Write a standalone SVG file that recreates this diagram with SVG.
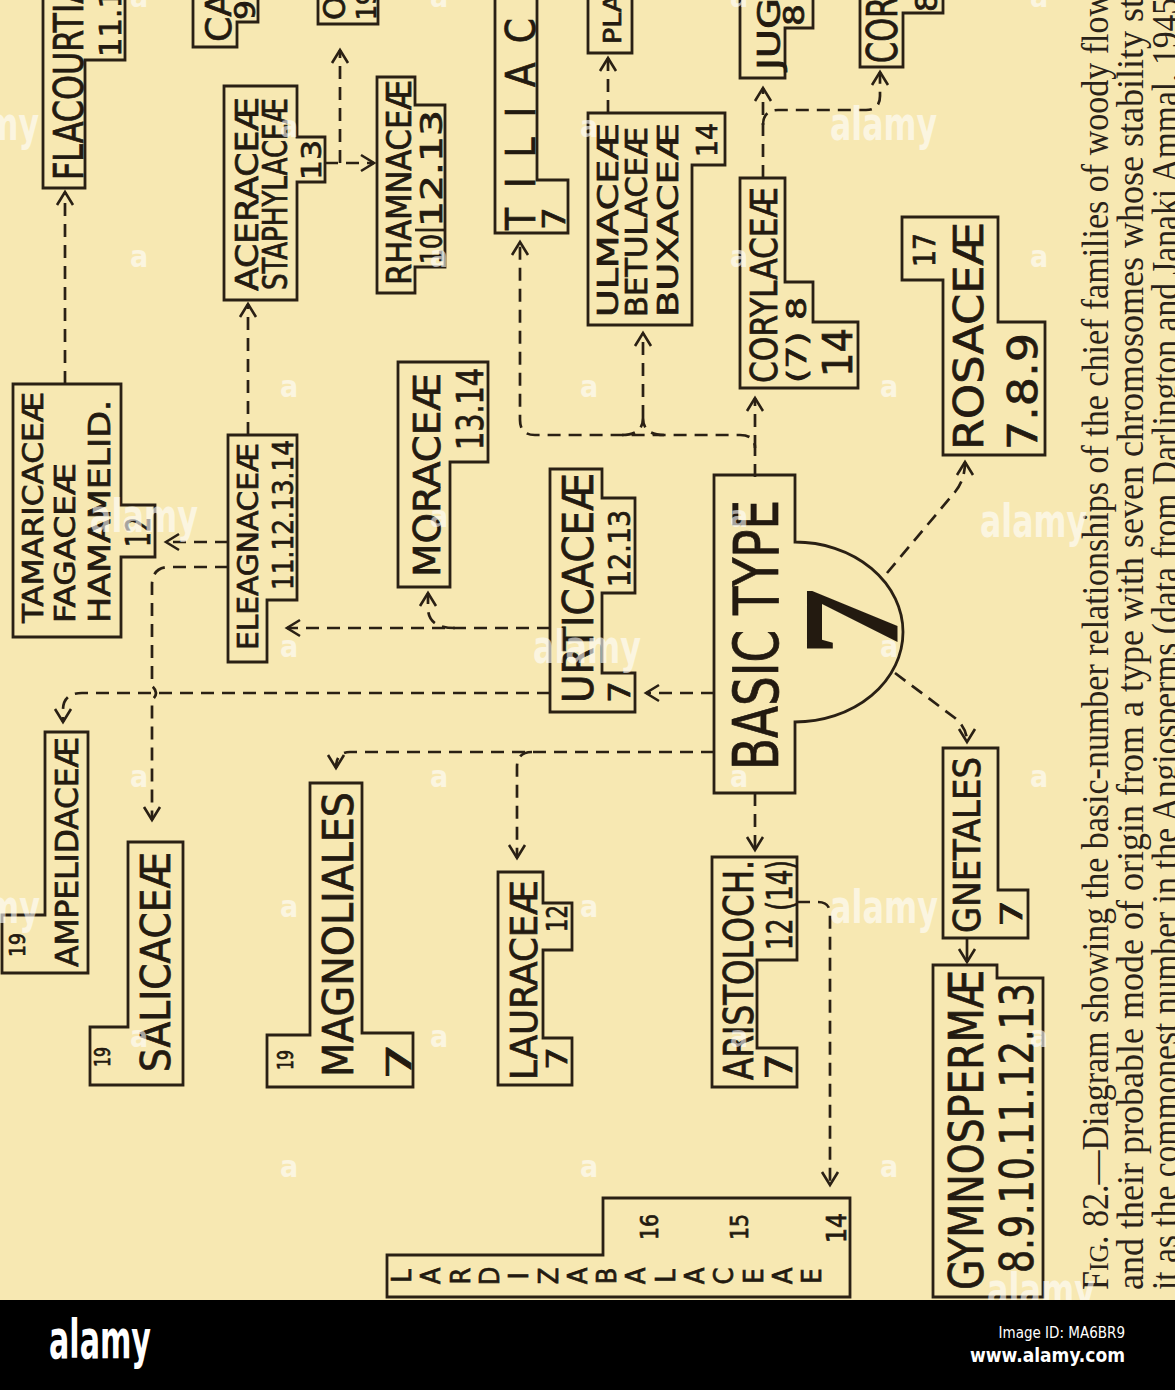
<svg xmlns="http://www.w3.org/2000/svg" width="1175" height="1390" viewBox="0 0 1175 1390">
<style>
.n{fill:none;stroke:#2a2014;stroke-width:2.8;stroke-linejoin:miter}
.t{font-family:"DejaVu Sans Condensed","DejaVu Sans",sans-serif;fill:#231a10;stroke:#231a10;stroke-width:0.7}
.c{fill:none;stroke:#2a2014;stroke-width:2.7;stroke-dasharray:13 8}
.s{fill:none;stroke:#2a2014;stroke-width:2.7}
.cap{font-family:"Liberation Serif","Times New Roman",serif;fill:#2a2218;font-size:37px}
.wm{font-family:"DejaVu Sans Condensed","DejaVu Sans",sans-serif;font-weight:bold;fill:#ffffff;opacity:0.6}
</style>
<defs>
<marker id="ah" markerUnits="userSpaceOnUse" markerWidth="20" markerHeight="20" viewBox="0 0 20 20" refX="17" refY="10" orient="auto">
<path d="M4,2 L17,10 L4,18" fill="none" stroke="#2a2014" stroke-width="2.6" stroke-dasharray="none"/>
</marker>
</defs>
<rect x="0" y="0" width="1175" height="1390" fill="#F7E8B2"/>

<g id="connectors">
<path class="c" d="M65,384 V192" marker-end="url(#ah)"/>
<path class="c" d="M248,435 V304" marker-end="url(#ah)"/>
<path class="c" d="M325,163 H374" marker-end="url(#ah)"/>
<path class="c" d="M340,163 V50" marker-end="url(#ah)"/>
<path class="c" d="M228,542 H166" marker-end="url(#ah)"/>
<path class="c" d="M228,567 H170 Q152,567 152,585 V686 Q160,693 152,700 V820" marker-end="url(#ah)"/>
<path class="c" d="M550,693 H82 Q63,693 63,710 V722" marker-end="url(#ah)"/>
<path class="c" d="M550,628 H287" marker-end="url(#ah)"/>
<path class="c" d="M455,628 Q428,628 428,608 V593" marker-end="url(#ah)"/>
<path class="c" d="M714,693 H646" marker-end="url(#ah)"/>
<path class="c" d="M714,752 H350 Q336,752 336,768" marker-end="url(#ah)"/>
<path class="c" d="M532,752 Q517,752 517,767 V858" marker-end="url(#ah)"/>
<path class="c" d="M755,793 V850" marker-end="url(#ah)"/>
<path class="c" d="M797,902 H818 Q830,902 830,914 V1185" marker-end="url(#ah)"/>
<path class="c" d="M755,477 V448 Q755,435 740,435 H535 Q520,435 520,420 V242" marker-end="url(#ah)"/>
<path class="c" d="M755,448 V398" marker-end="url(#ah)"/>
<path class="c" d="M622,435 Q643,435 643,418 M664,435 Q643,435 643,418"/>
<path class="c" d="M643,418 V333" marker-end="url(#ah)"/>
<path class="c" d="M763,178 V88" marker-end="url(#ah)"/>
<path class="c" d="M763,125 Q763,110 778,110 H866 Q880,110 880,96 V72" marker-end="url(#ah)"/>
<path class="c" d="M608,113 V58" marker-end="url(#ah)"/>
<path class="c" d="M887,573 L955,492 Q965,480 965,462" marker-end="url(#ah)"/>
<path class="c" d="M895,673 L955,718 Q967,728 967,742" marker-end="url(#ah)"/>
<path class="s" d="M967,938 V962" marker-end="url(#ah)"/>
</g>

<g id="flacourtiaceae">
<polygon class="n" points="43,-5 125,-5 125,60 85,60 85,188 43,188"/>
<text class="t" transform="translate(83,180) rotate(-90)" font-size="41" textLength="198" lengthAdjust="spacingAndGlyphs">FLACOURTIA</text>
<text class="t" transform="translate(121,57) rotate(-90)" font-size="31" textLength="68" lengthAdjust="spacingAndGlyphs">11.1</text>
</g>
<g id="ca">
<polygon class="n" points="193,-5 258,-5 258,22 237,22 237,47 193,47"/>
<text class="t" transform="translate(231,42) rotate(-90)" font-size="36" textLength="50" lengthAdjust="spacingAndGlyphs">CA</text>
<text class="t" transform="translate(255,20) rotate(-90)" font-size="28" textLength="20" lengthAdjust="spacingAndGlyphs">9</text>
</g>
<g id="o">
<polygon class="n" points="318,-5 378,-5 378,24 318,24"/>
<text class="t" transform="translate(345,20) rotate(-90)" font-size="30" textLength="24" lengthAdjust="spacingAndGlyphs">O</text>
<text class="t" transform="translate(376,20) rotate(-90)" font-size="26" textLength="30" lengthAdjust="spacingAndGlyphs">19</text>
</g>
<g id="aceraceae">
<polygon class="n" points="224,86 297,86 297,137 325,137 325,182 297,182 297,300 224,300"/>
<text class="t" transform="translate(258,291) rotate(-90)" font-size="32" textLength="194" lengthAdjust="spacingAndGlyphs">ACERACEÆ</text>
<text class="t" transform="translate(287,290) rotate(-90)" font-size="33" textLength="192" lengthAdjust="spacingAndGlyphs">STAPHYLACEÆ</text>
<text class="t" transform="translate(321,180) rotate(-90)" font-size="27" textLength="40" lengthAdjust="spacingAndGlyphs">13</text>
</g>
<g id="rhamnaceae">
<polygon class="n" points="377,77 415,77 415,105 445,105 445,267 415,267 415,293 377,293"/>
<path class="s" d="M415,230 H445"/>
<text class="t" transform="translate(411,285) rotate(-90)" font-size="33" textLength="205" lengthAdjust="spacingAndGlyphs">RHAMNACEÆ</text>
<text class="t" transform="translate(442,227) rotate(-90)" font-size="30" textLength="117" lengthAdjust="spacingAndGlyphs">12.13</text>
<text class="t" transform="translate(442,264) rotate(-90)" font-size="30" textLength="30" lengthAdjust="spacingAndGlyphs">10</text>
</g>
<g id="tiliaceae">
<polygon class="n" points="495,-5 537,-5 537,180 568,180 568,233 495,233"/>
<text class="t" transform="translate(535,230) rotate(-90)" font-size="40" textLength="212" lengthAdjust="spacing">TILIAC</text>
<text class="t" transform="translate(565,230) rotate(-90)" font-size="32" textLength="23" lengthAdjust="spacingAndGlyphs">7</text>
</g>
<g id="pla">
<polygon class="n" points="588,-5 632,-5 632,53 588,53"/>
<text class="t" transform="translate(621,44) rotate(-90)" font-size="25" textLength="50" lengthAdjust="spacingAndGlyphs">PLA</text>
</g>
<g id="ulmaceae">
<polygon class="n" points="588,113 725,113 725,165 692,165 692,325 588,325"/>
<text class="t" transform="translate(618,317) rotate(-90)" font-size="28" textLength="194" lengthAdjust="spacingAndGlyphs">ULMACEÆ</text>
<text class="t" transform="translate(647,317) rotate(-90)" font-size="30" textLength="190" lengthAdjust="spacingAndGlyphs">BETULACEÆ</text>
<text class="t" transform="translate(678,317) rotate(-90)" font-size="29" textLength="194" lengthAdjust="spacingAndGlyphs">BUXACEÆ</text>
<text class="t" transform="translate(717,157) rotate(-90)" font-size="28" textLength="34" lengthAdjust="spacingAndGlyphs">14</text>
</g>
<g id="juglandaceae">
<polygon class="n" points="740,-5 813,-5 813,28 785,28 785,78 740,78"/>
<text class="t" transform="translate(780,70) rotate(-90)" font-size="32" textLength="72" lengthAdjust="spacingAndGlyphs">JUG</text>
<text class="t" transform="translate(804,26) rotate(-90)" font-size="28" textLength="22" lengthAdjust="spacingAndGlyphs">8</text>
</g>
<g id="corylaceae">
<polygon class="n" points="740,178 785,178 785,282 813,282 813,322 858,322 858,388 740,388"/>
<text class="t" transform="translate(777,383) rotate(-90)" font-size="37" textLength="196" lengthAdjust="spacingAndGlyphs">CORYLACEÆ</text>
<text class="t" transform="translate(806,383) rotate(-90)" font-size="26" textLength="86" lengthAdjust="spacingAndGlyphs">(7) 8</text>
<text class="t" transform="translate(852,377) rotate(-90)" font-size="40" textLength="49" lengthAdjust="spacingAndGlyphs">14</text>
</g>
<g id="cornaceae">
<polygon class="n" points="860,-5 943,-5 943,13 903,13 903,67 860,67"/>
<text class="t" transform="translate(897,63) rotate(-90)" font-size="42" textLength="66" lengthAdjust="spacingAndGlyphs">COR</text>
<text class="t" transform="translate(937,12) rotate(-90)" font-size="30" textLength="20" lengthAdjust="spacingAndGlyphs">8</text>
</g>
<g id="moraceae">
<polygon class="n" points="398,362 488,362 488,462 450,462 450,587 398,587"/>
<text class="t" transform="translate(440,577) rotate(-90)" font-size="38" textLength="204" lengthAdjust="spacingAndGlyphs">MORACEÆ</text>
<text class="t" transform="translate(483,450) rotate(-90)" font-size="37" textLength="82" lengthAdjust="spacingAndGlyphs">13.14</text>
</g>
<g id="urticaceae">
<polygon class="n" points="550,469 602,469 602,498 635,498 635,593 602,593 602,673 635,673 635,712 550,712"/>
<text class="t" transform="translate(593,703) rotate(-90)" font-size="42" textLength="230" lengthAdjust="spacingAndGlyphs">URTICACEÆ</text>
<text class="t" transform="translate(630,587) rotate(-90)" font-size="30" textLength="77" lengthAdjust="spacingAndGlyphs">12.13</text>
<text class="t" transform="translate(630,703) rotate(-90)" font-size="30" textLength="22" lengthAdjust="spacingAndGlyphs">7</text>
</g>
<g id="eleagnaceae">
<polygon class="n" points="228,435 297,435 297,600 267,600 267,662 228,662"/>
<text class="t" transform="translate(258,650) rotate(-90)" font-size="28" textLength="207" lengthAdjust="spacingAndGlyphs">ELEAGNACEÆ</text>
<text class="t" transform="translate(293,590) rotate(-90)" font-size="29" textLength="150" lengthAdjust="spacingAndGlyphs">11.12.13.14</text>
</g>
<g id="tamaricaceae">
<polygon class="n" points="13,384 121,384 121,505 155,505 155,557 121,557 121,637 13,637"/>
<text class="t" transform="translate(43,623) rotate(-90)" font-size="28" textLength="231" lengthAdjust="spacingAndGlyphs">TAMARICACEÆ</text>
<text class="t" transform="translate(75,623) rotate(-90)" font-size="28" textLength="160" lengthAdjust="spacingAndGlyphs">FAGACEÆ</text>
<text class="t" transform="translate(110,623) rotate(-90)" font-size="31" textLength="223" lengthAdjust="spacingAndGlyphs">HAMAMELID.</text>
<text class="t" transform="translate(150,547) rotate(-90)" font-size="34" textLength="30" lengthAdjust="spacingAndGlyphs">12</text>
</g>
<g id="ampelidaceae">
<polygon class="n" points="45,732 88,732 88,973 2,973 2,915 45,915"/>
<text class="t" transform="translate(78,967) rotate(-90)" font-size="32" textLength="230" lengthAdjust="spacingAndGlyphs">AMPELIDACEÆ</text>
<text class="t" transform="translate(25,957) rotate(-90)" font-size="21" textLength="24" lengthAdjust="spacingAndGlyphs">19</text>
</g>
<g id="salicaceae">
<polygon class="n" points="128,842 183,842 183,1085 90,1085 90,1027 128,1027"/>
<text class="t" transform="translate(170,1072) rotate(-90)" font-size="41" textLength="220" lengthAdjust="spacingAndGlyphs">SALICACEÆ</text>
<text class="t" transform="translate(110,1067) rotate(-90)" font-size="21" textLength="20" lengthAdjust="spacingAndGlyphs">19</text>
</g>
<g id="magnoliales">
<polygon class="n" points="310,783 362,783 362,1033 413,1033 413,1087 267,1087 267,1035 310,1035"/>
<text class="t" transform="translate(353,1077) rotate(-90)" font-size="43" textLength="285" lengthAdjust="spacingAndGlyphs">MAGNOLIALES</text>
<text class="t" transform="translate(293,1070) rotate(-90)" font-size="21" textLength="20" lengthAdjust="spacingAndGlyphs">19</text>
<text class="t" transform="translate(411,1080) rotate(-90)" font-size="33" textLength="37" lengthAdjust="spacingAndGlyphs">7</text>
</g>
<g id="lauraceae">
<polygon class="n" points="498,872 543,872 543,903 572,903 572,950 543,950 543,1038 572,1038 572,1085 498,1085"/>
<text class="t" transform="translate(537,1080) rotate(-90)" font-size="37" textLength="200" lengthAdjust="spacingAndGlyphs">LAURACEÆ</text>
<text class="t" transform="translate(567,932) rotate(-90)" font-size="28" textLength="27" lengthAdjust="spacingAndGlyphs">12</text>
<text class="t" transform="translate(567,1070) rotate(-90)" font-size="28" textLength="23" lengthAdjust="spacingAndGlyphs">7</text>
</g>
<g id="aristolochiaceae">
<polygon class="n" points="712,857 797,857 797,960 757,960 757,1048 797,1048 797,1087 712,1087"/>
<text class="t" transform="translate(753,1080) rotate(-90)" font-size="40" textLength="220" lengthAdjust="spacingAndGlyphs">ARISTOLOCH.</text>
<text class="t" transform="translate(792,950) rotate(-90)" font-size="36" textLength="90" lengthAdjust="spacingAndGlyphs">12 (14)</text>
<text class="t" transform="translate(792,1080) rotate(-90)" font-size="38" textLength="27" lengthAdjust="spacingAndGlyphs">7</text>
</g>
<g id="lardizabalaceae">
<polygon class="n" points="387,1255 603,1255 603,1198 850,1198 850,1297 387,1297"/>
<g class="t" font-size="27" text-anchor="middle">
<text transform="translate(411,1276) rotate(-90)">L</text>
<text transform="translate(440,1276) rotate(-90)">A</text>
<text transform="translate(470,1276) rotate(-90)">R</text>
<text transform="translate(499,1276) rotate(-90)">D</text>
<text transform="translate(528,1276) rotate(-90)">I</text>
<text transform="translate(558,1276) rotate(-90)">Z</text>
<text transform="translate(587,1276) rotate(-90)">A</text>
<text transform="translate(616,1276) rotate(-90)">B</text>
<text transform="translate(645,1276) rotate(-90)">A</text>
<text transform="translate(675,1276) rotate(-90)">L</text>
<text transform="translate(704,1276) rotate(-90)">A</text>
<text transform="translate(733,1276) rotate(-90)">C</text>
<text transform="translate(763,1276) rotate(-90)">E</text>
<text transform="translate(792,1276) rotate(-90)">A</text>
<text transform="translate(821,1276) rotate(-90)">E</text>
</g>
<text class="t" transform="translate(658,1240) rotate(-90)" font-size="24" textLength="26" lengthAdjust="spacingAndGlyphs">16</text>
<text class="t" transform="translate(748,1240) rotate(-90)" font-size="24" textLength="26" lengthAdjust="spacingAndGlyphs">15</text>
<text class="t" transform="translate(846,1243) rotate(-90)" font-size="26" textLength="30" lengthAdjust="spacingAndGlyphs">14</text>
</g>
<g id="basic-type">
<path class="n" d="M714,475 H795 V542 A108,90 0 0 1 795,722 V793 H714 Z"/>
<text class="t" transform="translate(778,770) rotate(-90)" font-size="62" textLength="270" lengthAdjust="spacingAndGlyphs">BASIC TYPE</text>
<text transform="translate(897,622) rotate(-90)" font-family="Liberation Serif, serif" font-weight="bold" font-size="138" text-anchor="middle" fill="#231a10">7</text>
</g>
<g id="rosaceae">
<polygon class="n" points="902,217 998,217 998,322 1045,322 1045,455 943,455 943,280 902,280"/>
<text class="t" transform="translate(935,267) rotate(-90)" font-size="30" textLength="34" lengthAdjust="spacingAndGlyphs">17</text>
<text class="t" transform="translate(983,450) rotate(-90)" font-size="41" textLength="228" lengthAdjust="spacingAndGlyphs">ROSACEÆ</text>
<text class="t" transform="translate(1037,450) rotate(-90)" font-size="41" textLength="117" lengthAdjust="spacingAndGlyphs">7.8.9</text>
</g>
<g id="gnetales">
<polygon class="n" points="943,748 998,748 998,890 1028,890 1028,938 943,938"/>
<text class="t" transform="translate(980,933) rotate(-90)" font-size="38" textLength="176" lengthAdjust="spacingAndGlyphs">GNETALES</text>
<text class="t" transform="translate(1022,927) rotate(-90)" font-size="30" textLength="27" lengthAdjust="spacingAndGlyphs">7</text>
</g>
<g id="gymnospermae">
<polygon class="n" points="933,965 997,965 997,978 1043,978 1043,1297 933,1297"/>
<text class="t" transform="translate(983,1290) rotate(-90)" font-size="48" textLength="320" lengthAdjust="spacingAndGlyphs">GYMNOSPERMÆ</text>
<text class="t" transform="translate(1033,1273) rotate(-90)" font-size="46" textLength="290" lengthAdjust="spacingAndGlyphs">8.9.10.11.12.13</text>
</g>

<g id="caption">
<text class="cap" transform="translate(1108,1290) rotate(-90)" textLength="1298" lengthAdjust="spacingAndGlyphs">F<tspan font-size="28">IG</tspan>. 82.—Diagram showing the basic-number relationships of the chief families of woody flow</text>
<text class="cap" transform="translate(1143,1290) rotate(-90)" textLength="1292" lengthAdjust="spacingAndGlyphs">and their probable mode of origin from a type with seven chromosomes whose stability st</text>
<text class="cap" transform="translate(1178,1290) rotate(-90)" textLength="1292" lengthAdjust="spacingAndGlyphs">it as the commonest number in the Angiosperms (data from Darlington and Janaki Ammal, 1945</text>
</g>

<g id="watermark">
<g class="wm" font-size="46">
<text x="830" y="140" textLength="107" lengthAdjust="spacingAndGlyphs">alamy</text>
<text x="-68" y="140" textLength="107" lengthAdjust="spacingAndGlyphs">alamy</text>
<text x="90" y="532" textLength="108" lengthAdjust="spacingAndGlyphs">alamy</text>
<text x="980" y="537" textLength="107" lengthAdjust="spacingAndGlyphs">alamy</text>
<text x="533" y="663" textLength="108" lengthAdjust="spacingAndGlyphs">alamy</text>
<text x="830" y="923" textLength="108" lengthAdjust="spacingAndGlyphs">alamy</text>
<text x="-68" y="923" textLength="108" lengthAdjust="spacingAndGlyphs">alamy</text>
<text x="987" y="1306" textLength="108" lengthAdjust="spacingAndGlyphs">alamy</text>
</g>
<g class="wm" font-size="30" opacity="0.45">
<text x="130" y="7">a</text><text x="430" y="7">a</text><text x="730" y="7">a</text><text x="1030" y="7">a</text>
<text x="280" y="137">a</text><text x="580" y="137">a</text>
<text x="130" y="267">a</text><text x="430" y="267">a</text><text x="730" y="267">a</text><text x="1030" y="267">a</text>
<text x="280" y="397">a</text><text x="580" y="397">a</text><text x="880" y="397">a</text>
<text x="430" y="527">a</text><text x="730" y="527">a</text>
<text x="280" y="657">a</text><text x="880" y="657">a</text>
<text x="130" y="787">a</text><text x="430" y="787">a</text><text x="730" y="787">a</text><text x="1030" y="787">a</text>
<text x="280" y="917">a</text><text x="580" y="917">a</text>
<text x="130" y="1047">a</text><text x="430" y="1047">a</text><text x="730" y="1047">a</text><text x="1030" y="1047">a</text>
<text x="280" y="1177">a</text><text x="580" y="1177">a</text><text x="880" y="1177">a</text>
</g>
</g>

<g id="banner">
<rect x="0" y="1300" width="1175" height="90" fill="#000000"/>
<text x="49" y="1358" font-family="DejaVu Sans Condensed, DejaVu Sans, sans-serif" font-weight="bold" font-size="54" fill="#ffffff" textLength="102" lengthAdjust="spacingAndGlyphs">alamy</text>
<text x="1125" y="1338" font-family="DejaVu Sans Condensed, DejaVu Sans, sans-serif" font-size="15" fill="#ffffff" text-anchor="end">Image ID: MA6BR9</text>
<text x="1125" y="1362" font-family="DejaVu Sans Condensed, DejaVu Sans, sans-serif" font-weight="bold" font-size="19" fill="#ffffff" text-anchor="end">www.alamy.com</text>
</g>
</svg>
